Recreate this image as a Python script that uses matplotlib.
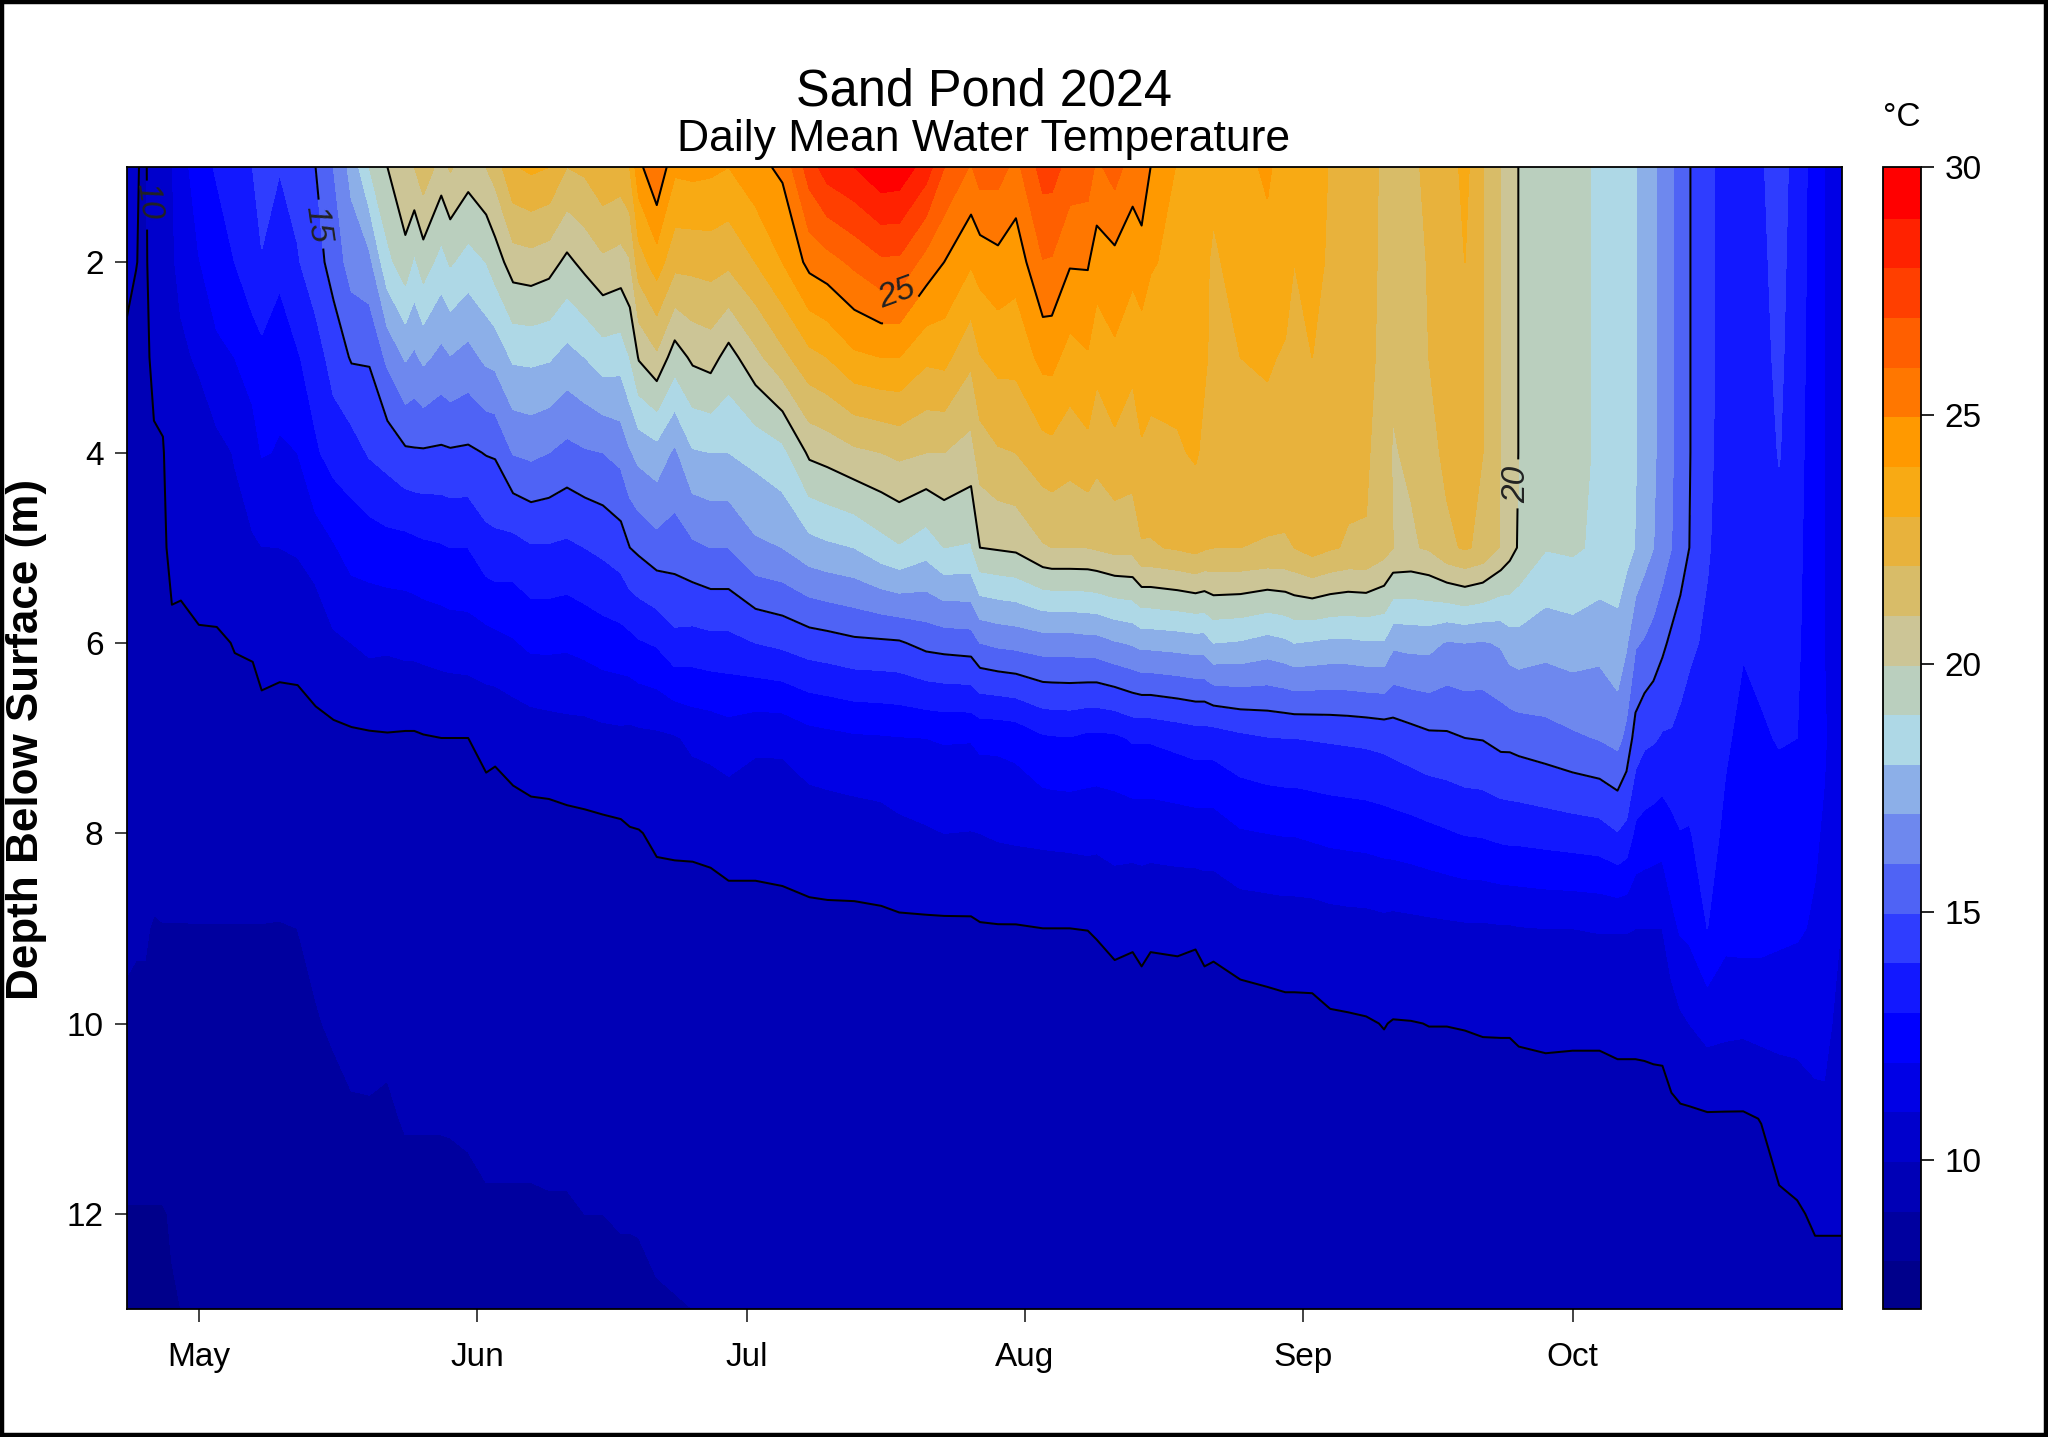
import numpy as np
import matplotlib
matplotlib.use("Agg")
import matplotlib.pyplot as plt
from matplotlib.colors import ListedColormap, BoundaryNorm
from matplotlib.patches import Rectangle

plt.rcParams['font.family'] = ['Liberation Sans', 'DejaVu Sans']

depths = [1, 2, 3, 4, 5, 6, 7, 8, 9, 10, 11, 12, 13]

# day of year 2024, temperature at each depth (1 m to 13 m)
days_spring = [114, 115, 116, 117, 118, 119, 120, 122, 124, 126, 128, 129, 131, 133, 135, 137, 139, 141, 143, 145, 146, 147, 149, 150]
temps_spring = [
    [10.4, 10.2, 9.85, 9.7, 9.6, 9.5, 9.4, 9.3, 9.1, 8.9, 8.45, 7.95, 7.8],
    [10.05, 10.02, 9.8, 9.7, 9.6, 9.5, 9.4, 9.3, 9.05, 8.9, 8.45, 7.95, 7.8],
    [9.9, 9.88, 9.8, 9.7, 9.65, 9.55, 9.45, 9.3, 9.05, 8.9, 8.45, 7.95, 7.8],
    [10.4, 10.35, 10.2, 9.9, 9.8, 9.7, 9.55, 9.3, 8.95, 8.8, 8.45, 7.95, 7.8],
    [10.5, 10.4, 10.25, 9.95, 9.9, 9.85, 9.6, 9.3, 8.98, 8.8, 8.45, 7.95, 7.85],
    [10.95, 10.9, 10.7, 10.4, 10.15, 9.9, 9.65, 9.3, 8.98, 8.8, 8.5, 8.05, 7.95],
    [11.5, 11.2, 10.85, 10.4, 10.15, 9.88, 9.65, 9.3, 8.98, 8.8, 8.5, 8.1, 8.0],
    [12.6, 11.95, 11.1, 10.55, 10.3, 9.93, 9.7, 9.35, 8.98, 8.8, 8.55, 8.2, 8.05],
    [13.1, 12.5, 11.8, 10.7, 10.5, 9.9, 9.7, 9.35, 8.98, 8.8, 8.55, 8.2, 8.05],
    [13.6, 13.0, 12.0, 11.05, 10.7, 10.03, 9.75, 9.35, 8.98, 8.8, 8.55, 8.25, 8.05],
    [14.0, 13.6, 12.5, 11.5, 10.9, 10.05, 9.8, 9.35, 8.98, 8.8, 8.55, 8.25, 8.1],
    [14.3, 13.95, 12.7, 12.05, 10.98, 10.15, 9.85, 9.35, 8.98, 8.8, 8.55, 8.25, 8.1],
    [14.05, 13.35, 12.2, 11.95, 11.0, 10.12, 9.83, 9.35, 8.97, 8.8, 8.55, 8.25, 8.1],
    [14.4, 13.9, 12.9, 12.0, 11.1, 10.12, 9.85, 9.4, 9.0, 8.85, 8.6, 8.3, 8.1],
    [15.0, 14.6, 13.5, 12.85, 11.5, 10.2, 9.9, 9.5, 9.15, 8.95, 8.65, 8.3, 8.1],
    [16.0, 15.4, 14.4, 13.4, 11.9, 10.85, 9.8, 9.5, 9.25, 9.08, 8.8, 8.35, 8.1],
    [17.3, 16.4, 15.1, 13.55, 12.4, 11.0, 9.87, 9.55, 9.3, 9.12, 8.95, 8.45, 8.2],
    [19.0, 16.7, 15.1, 14.1, 12.45, 11.2, 9.9, 9.6, 9.33, 9.15, 8.95, 8.5, 8.25],
    [20.0, 18.7, 16.2, 14.4, 12.6, 11.15, 9.93, 9.6, 9.35, 9.15, 8.9, 8.5, 8.25],
    [21.0, 19.6, 17.1, 14.85, 12.6, 11.25, 9.9, 9.6, 9.4, 9.2, 9.05, 8.75, 8.4],
    [21.0, 18.8, 16.8, 14.9, 12.7, 11.25, 9.9, 9.6, 9.4, 9.2, 9.05, 8.75, 8.4],
    [21.6, 19.5, 17.2, 14.9, 12.8, 11.3, 9.95, 9.62, 9.4, 9.22, 9.05, 8.75, 8.4],
    [20.6, 18.6, 16.7, 14.85, 12.9, 11.4, 10.0, 9.65, 9.42, 9.25, 9.05, 8.75, 8.45],
    [21.1, 19.1, 16.95, 14.9, 13.0, 11.45, 10.0, 9.65, 9.42, 9.25, 9.05, 8.8, 8.45],
]

days_june = [152, 154, 155, 157, 159, 161, 163, 165, 167, 169, 170, 171, 173, 175, 177, 179, 181]
temps_june = [
    [20.5, 18.6, 16.65, 14.85, 13.0, 11.5, 10.0, 9.65, 9.45, 9.25, 9.08, 8.85, 8.5],
    [21.0, 19.0, 17.2, 15.05, 13.6, 11.6, 10.2, 9.65, 9.45, 9.3, 9.1, 8.95, 8.6],
    [21.4, 19.5, 17.3, 15.1, 13.7, 11.7, 10.15, 9.65, 9.45, 9.3, 9.1, 8.95, 8.6],
    [22.9, 20.5, 18.15, 16.05, 13.6, 11.9, 10.3, 9.7, 9.45, 9.3, 9.1, 8.95, 8.6],
    [23.2, 20.6, 18.2, 16.2, 13.9, 12.2, 10.4, 9.75, 9.5, 9.3, 9.1, 8.95, 8.65],
    [23.0, 20.4, 18.1, 16.0, 13.9, 12.2, 10.5, 9.72, 9.5, 9.35, 9.15, 8.95, 8.65],
    [22.0, 19.77, 17.65, 15.7, 13.8, 12.15, 10.6, 9.75, 9.5, 9.35, 9.15, 8.95, 8.7],
    [22.2, 20.3, 18.0, 15.9, 14.0, 12.3, 10.6, 9.8, 9.55, 9.4, 9.2, 9.0, 8.7],
    [22.8, 20.8, 18.5, 16.0, 14.2, 12.5, 10.7, 9.83, 9.6, 9.45, 9.25, 9.0, 8.75],
    [22.6, 20.6, 18.4, 16.3, 14.5, 12.6, 10.75, 9.87, 9.65, 9.5, 9.3, 9.05, 8.8],
    [23.0, 20.9, 19.0, 16.9, 15.0, 12.7, 10.7, 9.95, 9.68, 9.5, 9.3, 9.05, 8.8],
    [24.7, 22.5, 20.1, 17.3, 15.2, 12.9, 10.75, 9.97, 9.7, 9.5, 9.3, 9.05, 8.85],
    [26.0, 23.5, 20.8, 17.6, 15.6, 13.1, 10.8, 10.1, 9.7, 9.55, 9.35, 9.1, 8.95],
    [24.2, 22.3, 19.5, 16.8, 15.5, 13.7, 10.9, 10.1, 9.75, 9.55, 9.35, 9.1, 8.98],
    [24.3, 22.3, 20.2, 17.9, 15.8, 13.6, 11.2, 10.12, 9.72, 9.55, 9.35, 9.15, 9.0],
    [24.2, 22.4, 20.4, 18.0, 16.0, 13.7, 11.3, 10.2, 9.65, 9.55, 9.35, 9.15, 9.05],
    [24.0, 22.2, 19.6, 18.0, 16.0, 13.7, 11.5, 10.25, 9.75, 9.6, 9.4, 9.2, 9.05],
]

days_july = [184, 187, 190, 192, 195, 198, 200, 203, 205, 208, 209, 211, 213]
temps_july = [
    [24.7, 23.0, 20.7, 18.3, 16.8, 14.0, 11.2, 10.2, 9.8, 9.6, 9.4, 9.2, 9.05],
    [25.2, 24.0, 21.7, 18.7, 17.0, 14.2, 11.2, 10.25, 9.8, 9.65, 9.45, 9.25, 9.1],
    [27.5, 25.3, 22.7, 20.2, 17.6, 14.5, 11.6, 10.35, 9.83, 9.65, 9.45, 9.25, 9.1],
    [28.5, 25.6, 23.0, 20.4, 17.8, 14.6, 11.7, 10.4, 9.83, 9.65, 9.45, 9.25, 9.1],
    [29.0, 26.2, 23.8, 20.8, 18.0, 14.8, 11.85, 10.45, 9.82, 9.68, 9.5, 9.3, 9.15],
    [29.8, 26.8, 24.0, 21.0, 18.6, 14.85, 11.9, 10.55, 9.83, 9.7, 9.5, 9.3, 9.15],
    [29.7, 26.8, 24.0, 21.2, 18.9, 14.9, 11.95, 10.75, 9.85, 9.72, 9.5, 9.3, 9.15],
    [28.5, 25.6, 23.2, 21.0, 18.4, 15.3, 12.0, 10.9, 9.85, 9.72, 9.5, 9.3, 9.15],
    [27.0, 25.0, 23.3, 21.0, 19.0, 15.4, 12.07, 11.0, 9.85, 9.72, 9.5, 9.3, 9.15],
    [25.9, 24.1, 22.2, 20.6, 18.9, 15.5, 12.05, 10.97, 9.86, 9.75, 9.55, 9.35, 9.2],
    [26.5, 24.4, 22.95, 21.5, 20.0, 16.0, 12.2, 11.0, 9.93, 9.75, 9.55, 9.35, 9.2],
    [26.4, 24.7, 23.3, 21.9, 20.1, 16.2, 12.2, 11.1, 9.95, 9.75, 9.55, 9.35, 9.2],
    [25.7, 24.4, 23.3, 22.0, 20.2, 16.3, 12.3, 11.15, 9.95, 9.7, 9.55, 9.35, 9.2],
]

days_august = [216, 217, 219, 221, 222, 224, 226, 227, 228, 231, 233, 234, 235, 238, 241, 243, 244, 246]
temps_august = [
    [27.4, 25.95, 24.3, 22.6, 20.9, 16.5, 12.85, 11.2, 10.0, 9.6, 9.5, 9.4, 9.2],
    [27.4, 25.9, 24.3, 22.7, 21.0, 16.5, 12.9, 11.22, 10.0, 9.6, 9.5, 9.4, 9.2],
    [26.6, 25.1, 23.6, 22.4, 21.0, 16.5, 12.95, 11.25, 10.0, 9.75, 9.55, 9.4, 9.25],
    [26.5, 25.1, 23.9, 22.7, 21.0, 16.6, 12.75, 11.3, 10.01, 9.6, 9.5, 9.4, 9.25],
    [25.8, 24.5, 23.3, 22.3, 21.1, 16.6, 12.75, 11.25, 10.08, 9.41, 9.38, 9.35, 9.25],
    [26.4, 24.7, 23.8, 22.7, 21.3, 16.9, 12.8, 11.35, 10.3, 9.4, 9.35, 9.3, 9.25],
    [25.5, 24.3, 23.2, 22.5, 21.3, 17.1, 13.1, 11.35, 10.2, 9.4, 9.35, 9.3, 9.2],
    [25.8, 24.5, 23.5, 22.9, 21.9, 17.3, 13.1, 11.35, 10.3, 9.55, 9.45, 9.35, 9.25],
    [25.0, 24.1, 23.3, 22.8, 21.9, 17.3, 13.1, 11.35, 10.2, 9.4, 9.35, 9.3, 9.2],
    [23.9, 23.7, 23.3, 22.9, 22.1, 17.4, 13.3, 11.4, 10.25, 9.4, 9.35, 9.3, 9.2],
    [23.6, 23.5, 23.4, 23.1, 22.3, 17.5, 13.45, 11.45, 10.2, 9.3, 9.28, 9.25, 9.2],
    [23.4, 23.2, 23.1, 22.8, 22.1, 17.5, 13.45, 11.45, 10.3, 9.55, 9.45, 9.35, 9.25],
    [23.3, 22.8, 22.8, 22.5, 22.0, 18.0, 13.45, 11.45, 10.28, 9.48, 9.4, 9.35, 9.25],
    [23.8, 23.5, 23.0, 22.7, 22.0, 17.9, 13.75, 11.9, 10.35, 9.7, 9.55, 9.45, 9.3],
    [24.1, 23.8, 23.1, 22.7, 21.9, 17.6, 13.95, 12.0, 10.4, 9.75, 9.6, 9.45, 9.3],
    [23.7, 23.4, 22.9, 22.5, 21.9, 17.8, 14.0, 12.05, 10.45, 9.78, 9.6, 9.45, 9.3],
    [23.2, 23.0, 22.7, 22.4, 22.0, 18.0, 14.0, 12.05, 10.45, 9.78, 9.6, 9.45, 9.3],
    [23.6, 23.4, 23.0, 22.7, 22.4, 17.9, 14.05, 12.15, 10.45, 9.79, 9.6, 9.45, 9.3],
]

days_september = [248, 250, 252, 254, 255, 257, 259, 261, 263, 265, 267, 268, 269, 272]
temps_september = [
    [22.9, 22.8, 22.7, 22.5, 22.1, 17.8, 14.1, 12.25, 10.55, 9.9, 9.7, 9.5, 9.35],
    [22.8, 22.7, 22.6, 22.3, 21.9, 17.8, 14.15, 12.3, 10.6, 9.92, 9.7, 9.5, 9.35],
    [22.6, 22.6, 22.5, 22.2, 21.9, 17.9, 14.2, 12.35, 10.62, 9.95, 9.7, 9.5, 9.35],
    [21.7, 21.6, 21.5, 21.2, 21.4, 17.9, 14.3, 12.45, 10.7, 10.02, 9.7, 9.5, 9.35],
    [21.6, 21.4, 21.1, 20.95, 21.0, 17.2, 14.4, 12.5, 10.65, 9.97, 9.7, 9.5, 9.35],
    [21.9, 21.7, 21.4, 21.1, 20.9, 17.3, 14.6, 12.6, 10.7, 9.98, 9.7, 9.5, 9.35],
    [22.1, 22.05, 22.0, 21.7, 21.1, 17.3, 14.8, 12.75, 10.75, 10.01, 9.7, 9.5, 9.35],
    [22.4, 22.4, 22.3, 22.2, 21.8, 16.9, 14.85, 12.9, 10.8, 10.01, 9.7, 9.5, 9.35],
    [23.3, 23.0, 22.9, 22.5, 22.1, 17.0, 15.0, 13.05, 10.85, 10.02, 9.75, 9.5, 9.35],
    [22.0, 22.0, 22.0, 22.0, 21.8, 16.9, 15.05, 13.1, 10.85, 10.05, 9.7, 9.5, 9.35],
    [20.95, 20.95, 20.95, 20.95, 20.9, 17.1, 15.3, 13.25, 10.9, 10.05, 9.72, 9.5, 9.35],
    [20.4, 20.4, 20.4, 20.4, 20.4, 17.5, 15.3, 13.3, 10.9, 10.05, 9.72, 9.5, 9.35],
    [19.98, 19.98, 19.98, 19.98, 19.9, 17.6, 15.4, 13.3, 10.95, 10.08, 9.75, 9.5, 9.35],
    [19.4, 19.4, 19.4, 19.4, 19.05, 17.35, 15.6, 13.4, 11.0, 10.1, 9.78, 9.5, 9.35],
]

days_october = [275, 278, 280, 281, 282, 283, 284, 285, 286, 287, 288, 290, 292, 294, 296, 298, 300, 302, 303, 305]
temps_october = [
    [19.2, 19.2, 19.2, 19.2, 19.15, 17.5, 15.85, 13.5, 11.0, 10.1, 9.75, 9.55, 9.4],
    [18.9, 18.9, 18.9, 18.9, 18.8, 17.3, 16.05, 13.6, 11.05, 10.1, 9.75, 9.55, 9.4],
    [18.6, 18.6, 18.6, 18.6, 18.5, 17.7, 16.3, 13.95, 11.05, 10.12, 9.8, 9.55, 9.4],
    [18.4, 18.4, 18.4, 18.4, 18.3, 17.1, 15.7, 13.7, 11.05, 10.12, 9.8, 9.55, 9.4],
    [18.05, 18.05, 18.05, 18.05, 17.95, 16.1, 14.6, 12.75, 11.0, 10.12, 9.8, 9.55, 9.4],
    [17.5, 17.5, 17.5, 17.5, 17.4, 15.9, 14.2, 12.6, 11.0, 10.13, 9.8, 9.55, 9.4],
    [17.15, 17.15, 17.15, 17.15, 17.0, 15.6, 14.1, 12.5, 11.0, 10.15, 9.8, 9.55, 9.4],
    [16.6, 16.6, 16.6, 16.6, 16.5, 15.2, 13.9, 12.4, 11.0, 10.2, 9.75, 9.55, 9.4],
    [16.1, 16.1, 16.1, 16.1, 16.0, 14.8, 13.9, 12.7, 11.7, 10.4, 9.85, 9.55, 9.4],
    [15.6, 15.6, 15.6, 15.6, 15.5, 14.5, 13.7, 12.97, 12.1, 10.8, 9.85, 9.6, 9.45],
    [15.05, 15.05, 15.05, 15.05, 15.0, 14.2, 13.5, 12.95, 12.2, 11.0, 9.85, 9.6, 9.45],
    [14.2, 14.2, 14.2, 14.2, 14.1, 13.8, 13.4, 13.3, 13.0, 11.35, 9.9, 9.7, 9.5],
    [13.7, 13.7, 13.7, 13.6, 13.5, 13.3, 13.1, 12.85, 12.3, 11.25, 9.9, 9.7, 9.5],
    [13.8, 13.8, 13.7, 13.6, 13.4, 13.05, 12.8, 12.6, 12.35, 11.2, 9.9, 9.65, 9.5],
    [13.9, 13.8, 13.7, 13.5, 13.3, 13.2, 12.9, 12.6, 12.3, 11.3, 10.02, 9.65, 9.45],
    [14.4, 14.3, 14.2, 14.05, 13.7, 13.5, 13.05, 12.6, 12.2, 11.3, 10.35, 9.85, 9.6],
    [13.6, 13.5, 13.4, 13.3, 13.2, 13.1, 13.0, 12.6, 12.1, 11.4, 10.3, 9.95, 9.7],
    [12.5, 12.5, 12.5, 12.5, 12.5, 12.55, 12.6, 12.1, 11.9, 11.2, 10.85, 10.06, 9.8],
    [12.0, 12.0, 12.0, 12.0, 12.0, 12.0, 12.1, 11.9, 11.6, 11.15, 10.9, 10.06, 9.8],
    [11.5, 11.5, 11.5, 11.5, 11.45, 11.4, 11.3, 11.2, 10.95, 10.8, 10.6, 10.06, 9.8],
]

month_days = [122, 153, 183, 214, 245, 275]
month_names = ['May', 'Jun', 'Jul', 'Aug', 'Sep', 'Oct']
depth_ticks = [2, 4, 6, 8, 10, 12]
temp_ticks = [10, 15, 20, 25, 30]
line_levels = [10, 15, 20, 25]

# one colour per degree, 7 to 30
band_colors = [
    '#00008B', '#00009F', '#0000B6', '#0000CC', '#0000E6', '#0000FF',
    '#1218FF', '#2F3DFF', '#4F63F5', '#6E88EE', '#8CAFE8', '#AED8E6',
    '#BACFBE', '#CCC596', '#D8BC68', '#E8B23C', '#F8AA14', '#FF9900',
    '#FF7700', '#FF5F00', '#FF3F00', '#FF2200', '#FF0000',
]
levels = np.arange(7, 31)

days = np.array(days_spring + days_june + days_july + days_august + days_september + days_october)
temps = np.array(temps_spring + temps_june + temps_july + temps_august + temps_september + temps_october).T

W, H = 2048, 1437
fig = plt.figure(figsize=(W / 100, H / 100), dpi=100, facecolor='white')
ax = fig.add_axes([127 / W, 1 - 1309 / H, (1842 - 127) / W, (1309 - 167) / H])
cax = fig.add_axes([1883 / W, 1 - 1309 / H, (1921 - 1883) / W, (1309 - 167) / H])

cmap = ListedColormap(band_colors)
norm = BoundaryNorm(levels, cmap.N)
cf = ax.contourf(days, depths, temps, levels=levels, cmap=cmap, norm=norm)
cf.set_edgecolor('face')
cf.set_linewidth(0.4)

cs = ax.contour(days, depths, temps, levels=line_levels, colors='black', linewidths=1.45)
labels = ax.clabel(cs, fmt='%d', fontsize=24, colors='#222222', inline=True, inline_spacing=6,
                   manual=[(116.8, 1.4), (135.6, 1.6), (269.0, 4.33), (199.5, 2.5)])

# label placement along the isotherms: (value, x, y, angle)
label_spots = {'10': (116.3, 1.36, -82), '15': (135.2, 1.6, -82), '20': (268.8, 4.33, 90), '25': (199.7, 2.33, 20)}
for t in labels:
    x, y, angle = label_spots[t.get_text()]
    t.set_position((x, y))
    t.set_rotation(angle)
    t.set_fontstyle('italic')

ax.set_xlim(114, 305)
ax.set_ylim(13, 1)
ax.set_xticks(month_days)
ax.set_xticklabels(month_names)
ax.set_yticks(depth_ticks)
ax.tick_params(axis='both', length=9, width=1.2, labelsize=24, color='#222222')
ax.tick_params(axis='x', pad=14.5)
ax.tick_params(axis='y', pad=8)
for s in ax.spines.values():
    s.set_linewidth(1.3)

cb = fig.colorbar(cf, cax=cax, ticks=temp_ticks, spacing='proportional', drawedges=False)
cb.ax.minorticks_off()
cb.ax.tick_params(length=9, width=1.2, labelsize=24, pad=8)
cb.outline.set_linewidth(1.3)
cb.solids.set_edgecolor('face')

fig.text(983.5 / W, 1 - 92 / H, 'Sand Pond 2024', ha='center', va='center', fontsize=36.4)
fig.text(983.5 / W, 1 - 140 / H, 'Daily Mean Water Temperature', ha='center', va='center', fontsize=32)
fig.text(27 / W, 1 - 739 / H, 'Depth Below Surface (m)', rotation=90, ha='center', va='center',
         fontsize=31.7, fontweight='bold')
fig.text(1902 / W, 1 - 118 / H, '°C', ha='center', va='center', fontsize=24)

# outer frame round the whole figure
fig.add_artist(Rectangle((2 / W, 2 / H), (W - 4) / W, (H - 4) / H, transform=fig.transFigure,
                         fill=False, edgecolor='black', linewidth=3.2))

fig.savefig('out.png', dpi=100)
